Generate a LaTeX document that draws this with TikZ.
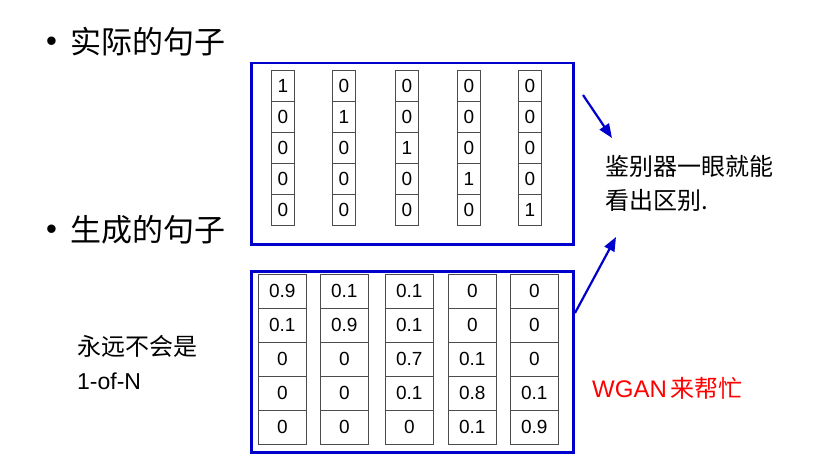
\documentclass[tikz,border=0pt]{standalone}
\usepackage{fontspec}
\setmainfont{Liberation Sans}
\newfontfamily\cjk{Noto Sans CJK SC}
\begin{document}
\begin{tikzpicture}[x=1pt,y=-1pt,
  frame/.style={draw=blue!80!black,line width=2.5pt},
  cell/.style={draw=black!70,line width=0.6pt,minimum width=#1,minimum height=31pt,inner sep=0pt,font=\fontsize{19}{19}\selectfont,anchor=north west},
  bcell/.style={draw=black!70,line width=0.6pt,minimum width=48pt,minimum height=34pt,inner sep=0pt,font=\fontsize{19}{19}\selectfont,anchor=north west},
  arr/.style={draw=blue!80!black,line width=2.2pt,-{Triangle[length=14pt,width=11pt]}},
  txt/.style={anchor=west,inner sep=0pt,font=\fontsize{24}{24}\selectfont\cjk},
  big/.style={anchor=west,inner sep=0pt,font=\fontsize{31}{31}\selectfont\cjk}]
\usetikzlibrary{arrows.meta}
\useasboundingbox (0,0) rectangle (814,460);
\node[frame,minimum width=322pt,minimum height=181pt,anchor=north west,inner sep=0pt] (top) at (250,62) {};
\node[frame,minimum width=322pt,minimum height=181pt,anchor=north west,inner sep=0pt] (bot) at (250,270) {};
% top matrix
\foreach \c/\x in {1/271,2/332,3/395,4/457,5/518}{
  \foreach \r in {1,...,5}{
    \pgfmathtruncatemacro\v{\c==\r ? 1 : 0}
    \node[cell=23pt] (t\c\r) at (\x,{70+(\r-1)*31}) {\v};
  }}
% bottom matrix
\foreach \c/\x/\vals in {1/258/{0.9,0.1,0,0,0},2/320/{0.1,0.9,0,0,0},3/385/{0.1,0.1,0.7,0.1,0},4/448/{0,0,0.1,0.8,0.1},5/510/{0,0,0,0.1,0.9}}{
  \foreach \v [count=\r] in \vals{
    \node[bcell] (b\c\r) at (\x,{274+(\r-1)*34}) {\v};
  }}
\node[big,font=\fontsize{31}{31}\selectfont] (d1) at (46,44) {•};
\node[big] (s1) at (70,42) {实际的句子};
\node[big,font=\fontsize{31}{31}\selectfont] (d2) at (46,232) {•};
\node[big] (s2) at (70,230) {生成的句子};
\node[txt] (j1) at (605,166) {鉴别器一眼就能};
\node[txt] (j2) at (605,200) {看出区别.};
\node[txt] (n1) at (77,346) {永远不会是};
\node[txt,font=\fontsize{23}{23}\selectfont] (n2) at (77,381) {1-of-N};
\node[txt,text=red] (w) at (592,388) {{\fontspec{Liberation Sans}WGAN}\,来帮忙};
\coordinate (a1s) at (583,95); \coordinate (a1e) at (612,138);
\coordinate (a2s) at (575,313); \coordinate (a2e) at (616,237);
\draw[arr] (a1s) -- (a1e);
\draw[arr] (a2s) -- (a2e);
\end{tikzpicture}
\end{document}
